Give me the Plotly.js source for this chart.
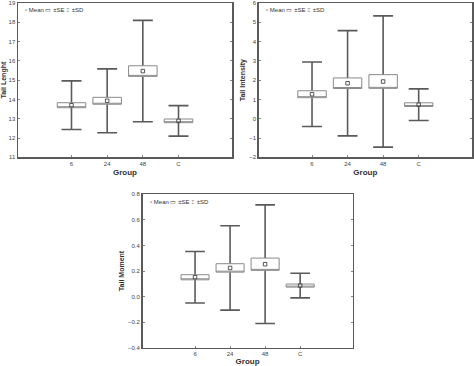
<!DOCTYPE html>
<html><head><meta charset="utf-8">
<script src="https://cdn.plot.ly/plotly-3.0.1.min.js"></script>
<style>html,body{margin:0;padding:0;background:#fff}#chart{width:474px;height:366px}</style>
</head><body><div id="chart"></div>
<script>
const groups = ['6', '24', '48', 'C'];

const lenMean = [13.70, 13.93, 15.47, 12.89];
const lenSE   = [0.13, 0.18, 0.275, 0.095];
const lenSD   = [1.26, 1.655, 2.63, 0.79];

const intMean = [1.27, 1.84, 1.93, 0.73];
const intSE   = [0.18, 0.275, 0.355, 0.095];
const intSD   = [1.67, 2.73, 3.40, 0.82];

const momMean = [0.151, 0.224, 0.253, 0.086];
const momSE   = [0.020, 0.033, 0.048, 0.012];
const momSD   = [0.201, 0.330, 0.464, 0.096];

const FONT = 'Liberation Sans, Arial, sans-serif';

function panelTraces(mean, se, sd, xa, ya) {
  const sdTrace = {
    type: 'box', x: groups, xaxis: xa, yaxis: ya,
    q1: mean, median: mean, q3: mean,
    lowerfence: mean.map((m, i) => m - sd[i]),
    upperfence: mean.map((m, i) => m + sd[i]),
    width: 0.8, whiskerwidth: 0.7,
    line: {color: '#5a5a5a', width: 1.6}, fillcolor: '#ffffff',
    boxpoints: false, hoverinfo: 'skip', showlegend: false
  };
  const seLo = mean.map((m, i) => m - se[i]);
  const seHi = mean.map((m, i) => m + se[i]);
  const seTrace = {
    type: 'box', x: groups, xaxis: xa, yaxis: ya,
    q1: seLo, median: seLo, q3: seHi, lowerfence: seLo, upperfence: seHi,
    width: 0.8, whiskerwidth: 0,
    line: {color: '#8a8a8a', width: 1}, fillcolor: '#ffffff',
    boxpoints: false, hoverinfo: 'skip', showlegend: false
  };
  const meanTrace = {
    type: 'scatter', mode: 'markers', x: groups, y: mean, xaxis: xa, yaxis: ya,
    marker: {symbol: 'square-open', size: 3.5, color: '#444', line: {width: 0.9, color: '#444'}},
    hoverinfo: 'skip', showlegend: false
  };
  return [sdTrace, seTrace, meanTrace];
}

const data = [].concat(
  panelTraces(lenMean, lenSE, lenSD, 'x', 'y'),
  panelTraces(intMean, intSE, intSD, 'x2', 'y2'),
  panelTraces(momMean, momSE, momSD, 'x3', 'y3')
);

function xAxis(domain, anchor) {
  return {
    domain: domain, anchor: anchor, type: 'category', range: [-1.5, 4.5],
    showline: true, mirror: true, linecolor: '#5a5a5a', linewidth: 1.5,
    ticks: 'inside', ticklen: 2, tickcolor: '#888',
    showgrid: false, zeroline: false,
    tickfont: {family: FONT, size: 6, color: '#444'},
    title: {text: '<b>Group</b>', font: {family: FONT, size: 8, color: '#333'}, standoff: 3},
    fixedrange: true
  };
}
function yAxis(domain, anchor, range, dtick, title, fmt) {
  return {
    domain: domain, anchor: anchor, range: range, dtick: dtick, tick0: range[0],
    tickformat: fmt || '',
    showline: true, mirror: 'allticks', linecolor: '#5a5a5a', linewidth: 1.5,
    ticks: 'inside', ticklen: 2, tickcolor: '#888',
    showgrid: false, zeroline: false,
    tickfont: {family: FONT, size: 6, color: '#444'},
    title: {text: '<b>' + title + '</b>', font: {family: FONT, size: 7, color: '#333'}, standoff: 2},
    fixedrange: true
  };
}

const topDom = [1 - 157.3 / 366, 1 - 3 / 366];
const botDom = [1 - 347.7 / 366, 1 - 194.3 / 366];

function legendAnn(xr, yr) {
  return {
    xref: xr + ' domain', yref: yr + ' domain', x: 0.025, y: 0.985,
    xanchor: 'left', yanchor: 'top', showarrow: false,
    text: '▫ Mean ▭ ±SE ⌶ ±SD',
    font: {family: FONT, size: 6, color: '#333'}
  };
}

const layout = {
  width: 474, height: 366,
  margin: {l: 0, r: 0, t: 0, b: 0},
  paper_bgcolor: '#fff', plot_bgcolor: '#fff',
  showlegend: false, boxmode: 'overlay',
  xaxis: xAxis([18 / 474, 232 / 474], 'y'),
  yaxis: yAxis(topDom, 'x', [11, 19], 1, 'Tail Lenght'),
  xaxis2: xAxis([258.7 / 474, 472 / 474], 'y2'),
  yaxis2: yAxis(topDom, 'x2', [-2, 6], 1, 'Tail Intensity'),
  xaxis3: xAxis([142.5 / 474, 352.7 / 474], 'y3'),
  yaxis3: yAxis(botDom, 'x3', [-0.4, 0.8], 0.2, 'Tail Moment', '.1f'),
  annotations: [legendAnn('x', 'y'), legendAnn('x2', 'y2'), legendAnn('x3', 'y3')]
};

Plotly.newPlot('chart', data, layout, {staticPlot: true, displayModeBar: false});
</script></body></html>
